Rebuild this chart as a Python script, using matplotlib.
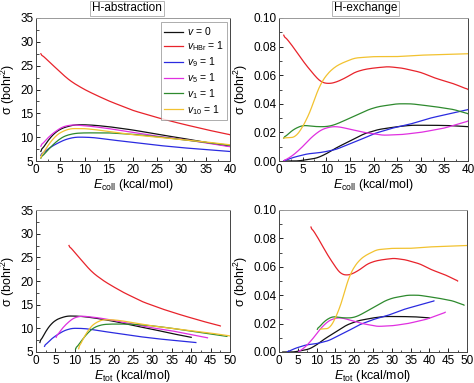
import numpy as np
import matplotlib
matplotlib.use('Agg')
import matplotlib.pyplot as plt
from matplotlib.ticker import MultipleLocator

plt.rcParams['font.family'] = ['Liberation Sans', 'DejaVu Sans']
plt.rcParams['mathtext.fontset'] = 'custom'
plt.rcParams['mathtext.rm'] = 'Liberation Sans'
plt.rcParams['mathtext.it'] = 'Liberation Sans:italic'

# labels / colours
labels = [r'$v$ = 0', r'$v_{\mathrm{HBr}}$ = 1', r'$v_9$ = 1',
          r'$v_5$ = 1', r'$v_1$ = 1', r'$v_{10}$ = 1']
colors = ['#111111', '#e8232b', '#2b2be0', '#e030e0', '#2e8a2e', '#f2c230']

# vibrational energy offsets (kcal/mol), E_tot = E_coll + offset
offsets = [0.0, 7.5, 1.2, 4.2, 9.2, 10.0]

# H-abstraction, sigma (bohr^2) vs E_coll
ab_x = [
    [1, 2, 3, 4, 5, 6, 8, 10, 12, 15, 20, 25, 30, 35, 40],
    [1, 2, 4, 6, 7.5, 10, 12, 15, 20, 25, 30, 35, 40],
    [1, 2, 3, 4, 6, 8, 10, 12, 15, 20, 25, 30, 35, 40],
    [1, 2, 3, 4, 5.5, 7.5, 10, 12, 15, 20, 25, 30, 35, 40],
    [1, 2, 3, 4, 5, 6, 8, 10, 12, 15, 20, 25, 30, 35, 40],
    [1, 2, 3, 4, 5, 7, 10, 12, 15, 20, 25, 30, 35, 40],
]
ab_y = [
    [7.0, 8.6, 10.0, 11.0, 11.7, 12.1, 12.6, 12.6, 12.5, 12.2, 11.5, 10.6, 9.8, 8.9, 8.1],
    [27.5, 26.5, 24.6, 22.7, 21.5, 20.0, 19.0, 17.6, 15.6, 14.1, 12.8, 11.6, 10.5],
    [6.2, 7.2, 7.9, 8.5, 9.5, 10.0, 10.0, 9.9, 9.5, 8.9, 8.3, 7.8, 7.4, 7.0],
    [8.1, 9.4, 10.4, 11.2, 12.2, 12.6, 12.4, 12.2, 11.8, 11.0, 10.2, 9.6, 8.8, 8.0],
    [5.6, 6.8, 7.9, 8.9, 9.7, 10.3, 10.8, 10.9, 10.9, 10.9, 10.6, 10.1, 9.5, 8.9, 8.3],
    [5.7, 7.6, 9.0, 10.2, 11.0, 11.8, 11.8, 11.6, 11.2, 10.5, 10.0, 9.5, 9.0, 8.4],
]

# H-exchange, sigma (bohr^2) vs E_coll
ex_x = [
    [1, 4, 6, 8, 10, 12, 15, 18, 21, 25, 28, 32, 36, 40],
    [1, 2.5, 4, 5.5, 7, 8, 9, 10.5, 12, 14, 16, 18, 20, 23, 26, 30, 33, 37, 40],
    [1, 3, 6, 9, 12, 15, 18, 20, 24, 28, 32, 36, 40],
    [1, 2, 3, 5, 7, 9, 11, 12.5, 14, 18, 22, 26, 30, 35, 40],
    [1, 2, 3, 5, 6.5, 8, 10, 11.5, 13, 15, 17, 19, 21, 25, 28, 33, 37, 40],
    [1, 2, 2.5, 3.5, 4.5, 6, 7, 8, 9, 10, 11.5, 13, 14.5, 16, 20, 25, 30, 35, 40],
]
ex_y = [
    [0.0, 0.0, 0.001, 0.002, 0.005, 0.009, 0.014, 0.019, 0.022, 0.024, 0.025, 0.025, 0.0248, 0.024],
    [0.088, 0.082, 0.075, 0.068, 0.062, 0.058, 0.055, 0.054, 0.055, 0.058, 0.062, 0.064, 0.065, 0.066, 0.065, 0.062, 0.058, 0.054, 0.050],
    [0.0, 0.0025, 0.005, 0.006, 0.008, 0.012, 0.016, 0.019, 0.023, 0.026, 0.030, 0.033, 0.036],
    [0.0, 0.002, 0.004, 0.010, 0.017, 0.022, 0.024, 0.024, 0.023, 0.020, 0.018, 0.0185, 0.020, 0.023, 0.028],
    [0.016, 0.019, 0.022, 0.025, 0.0245, 0.024, 0.024, 0.025, 0.027, 0.030, 0.033, 0.036, 0.038, 0.040, 0.040, 0.038, 0.036, 0.033],
    [0.016, 0.0165, 0.016, 0.017, 0.021, 0.030, 0.038, 0.048, 0.055, 0.060, 0.065, 0.068, 0.070, 0.072, 0.073, 0.073, 0.074, 0.0745, 0.075],
]


def smooth(x, y, n=200):
    # dense linear interpolation then a short moving average, to round the corners
    xs = np.linspace(x[0], x[-1], n)
    ys = np.interp(xs, x, y)
    k = 9
    pad = np.pad(ys, k // 2, mode='edge')
    ys = np.convolve(pad, np.ones(k) / k, mode='valid')
    ys[0], ys[-1] = y[0], y[-1]
    return xs, ys


def style(ax, xmax, ymin, ymax, ystep, xlabel, fmt):
    ax.set_xlim(0, xmax)
    ax.set_ylim(ymin, ymax)
    ax.xaxis.set_major_locator(MultipleLocator(5))
    ax.xaxis.set_minor_locator(MultipleLocator(2.5))
    ax.yaxis.set_major_locator(MultipleLocator(ystep))
    ax.yaxis.set_minor_locator(MultipleLocator(ystep / 2))
    ax.tick_params(which='both', direction='in', top=False, right=False,
                   labelsize=8.5, pad=2)
    ax.tick_params(which='major', length=3, width=0.6)
    ax.tick_params(which='minor', length=1.8, width=0.5)
    ax.yaxis.set_major_formatter(plt.FormatStrFormatter(fmt))
    for s in ax.spines.values():
        s.set_linewidth(0.7)
        s.set_color('#444444')
    ax.spines['top'].set_color('#999999')
    ax.set_xlabel(xlabel, fontsize=9, labelpad=1)
    ax.set_ylabel('σ (bohr$^2$)', fontsize=9, labelpad=2)


fig = plt.figure(figsize=(4.74, 3.83), dpi=100)
W, H = 474, 383
def add(l, t, r, b):
    return fig.add_axes([l / W, 1 - b / H, (r - l) / W, (b - t) / H])

ax1 = add(36, 18, 230, 161)
ax2 = add(279, 18, 468, 161)
ax3 = add(36, 210, 230, 352)
ax4 = add(279, 210, 467, 352)

ecoll = r'$E_{\mathrm{coll}}$ (kcal/mol)'
etot = r'$E_{\mathrm{tot}}$ (kcal/mol)'

for i in range(6):
    xs, ys = smooth(ab_x[i], ab_y[i])
    ax1.plot(xs, ys, color=colors[i], lw=0.9, label=labels[i])
    ax3.plot(xs + offsets[i], ys, color=colors[i], lw=0.9)
    xs, ys = smooth(ex_x[i], ex_y[i])
    ax2.plot(xs, ys, color=colors[i], lw=0.9)
    ax4.plot(xs + offsets[i], ys, color=colors[i], lw=0.9)

style(ax1, 40, 5, 35, 5, ecoll, '%d')
style(ax2, 40, 0, 0.10, 0.02, ecoll, '%.2f')
style(ax3, 50, 5, 35, 5, etot, '%d')
style(ax4, 50, 0, 0.10, 0.02, etot, '%.2f')

leg = ax1.legend(loc='upper right', fontsize=7.5, frameon=True, fancybox=False,
                 handlelength=1.8, labelspacing=0.2, borderpad=0.3,
                 handletextpad=0.4, borderaxespad=0.2,
                 bbox_to_anchor=(0.995, 0.985))
leg.get_frame().set_edgecolor('#888888')
leg.get_frame().set_linewidth(0.6)

box = dict(boxstyle='square,pad=0.15', fc='white', ec='#aaaaaa', lw=0.6)
ax1.text(0.47, 1.025, 'H-abstraction', transform=ax1.transAxes, ha='center',
         va='bottom', fontsize=8.5, bbox=box)
ax2.text(0.46, 1.025, 'H-exchange', transform=ax2.transAxes, ha='center',
         va='bottom', fontsize=8.5, bbox=box)

fig.savefig('out.png', dpi=100)
